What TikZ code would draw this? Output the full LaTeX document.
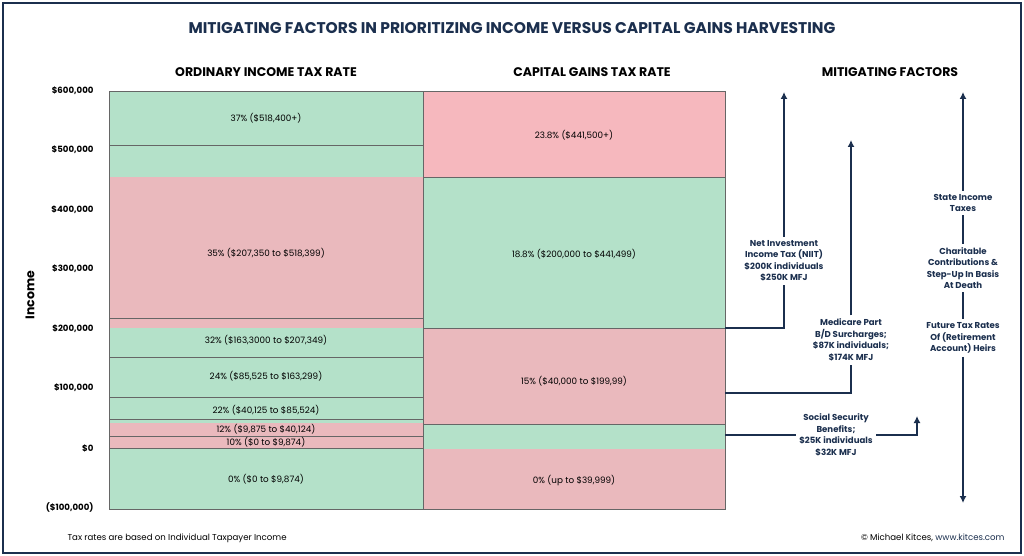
\documentclass[tikz,border=0pt]{standalone}
\usepackage{fontspec}
\setmainfont{Poppins}
\begin{document}
\begin{tikzpicture}[x=1pt,y=-1pt,
  band/.style={draw=black!60,line width=0.6pt},
  navy/.style={draw=nv,line width=2.4pt},
  arr/.style={navy,-{Latex[length=7pt,width=7pt]}},
  lbl/.style={font=\fontsize{8.8}{10}\selectfont,text=black},
  rt/.style={font=\bfseries\fontsize{8.6}{11.5}\selectfont,text=nv,align=center},
  ax/.style={font=\bfseries\fontsize{8.6}{10}\selectfont,anchor=east}]
\definecolor{nv}{HTML}{1B2F4E}
\definecolor{gr}{HTML}{B4E1C9}
\definecolor{pk}{HTML}{EAB9BD}
\definecolor{pk2}{HTML}{F6B8BE}
\usetikzlibrary{arrows.meta}
\useasboundingbox (0,0) rectangle (1024,556);
\fill[white] (0,0) rectangle (1024,556);
\draw[nv,line width=2pt] (3,3) rectangle (1021,553);
\node[font=\bfseries\fontsize{15.5}{18}\selectfont,text=nv] (title) at (512,28) {MITIGATING FACTORS IN PRIORITIZING INCOME VERSUS CAPITAL GAINS HARVESTING};
\node[font=\bfseries\fontsize{12.5}{14}\selectfont] (h1) at (266,72) {ORDINARY INCOME TAX RATE};
\node[font=\bfseries\fontsize{12.5}{14}\selectfont] (h2) at (592,72) {CAPITAL GAINS TAX RATE};
\node[font=\bfseries\fontsize{12.5}{14}\selectfont] (h3) at (890,72) {MITIGATING FACTORS};
% axis
\node[ax] (a6) at (97,91) {\$600,000};
\node[ax] (a5) at (97,150) {\$500,000};
\node[ax] (a4) at (97,210) {\$400,000};
\node[ax] (a3) at (97,269) {\$300,000};
\node[ax] (a2) at (97,329) {\$200,000};
\node[ax] (a1) at (97,388) {\$100,000};
\node[ax] (a0) at (97,448) {\$0};
\node[ax] (am) at (97,507) {(\$100,000)};
\node[font=\bfseries\fontsize{12.5}{14}\selectfont,rotate=90] (inc) at (30,295) {Income};
% left column
\fill[gr] (109,91) rectangle (423,177);
\fill[pk] (109,177) rectangle (423,328);
\fill[gr] (109,328) rectangle (423,423);
\fill[pk] (109,423) rectangle (423,448);
\fill[gr] (109,448) rectangle (423,509);
\draw[band] (109,91) rectangle (423,509);
\foreach \yy in {145,318,357,397,419,436,448} \draw[band] (109,\yy) -- (423,\yy);
\node[lbl] (l37) at (266,118) {37\% (\$518,400+)};
\node[lbl] (l35) at (266,253) {35\% (\$207,350 to \$518,399)};
\node[lbl] (l32) at (266,340) {32\% (\$163,3000 to \$207,349)};
\node[lbl] (l24) at (266,376) {24\% (\$85,525 to \$163,299)};
\node[lbl] (l22) at (266,410) {22\% (\$40,125 to \$85,524)};
\node[lbl] (l12) at (266,429) {12\% (\$9,875 to \$40,124)};
\node[lbl] (l10) at (266,442) {10\% (\$0 to \$9,874)};
\node[lbl] (l0) at (266,479) {0\% (\$0 to \$9,874)};
% middle column
\fill[pk2] (423,91) rectangle (725,177);
\fill[gr] (423,177) rectangle (725,328);
\fill[pk] (423,328) rectangle (725,424);
\fill[gr] (423,424) rectangle (725,449);
\fill[pk] (423,449) rectangle (725,509);
\draw[band] (423,91) rectangle (725,509);
\foreach \yy in {177,328,424} \draw[band] (423,\yy) -- (725,\yy);
\node[lbl] (c23) at (574,135) {23.8\% (\$441,500+)};
\node[lbl] (c18) at (574,254) {18.8\% (\$200,000 to \$441,499)};
\node[lbl] (c15) at (574,381) {15\% (\$40,000 to \$199,99)};
\node[lbl] (c0) at (574,481) {0\% (up to \$39,999)};
% mitigating
\node[rt] (niit) at (784,261) {Net Investment\\Income Tax (NIIT)\\\$200K individuals\\\$250K MFJ};
\coordinate (n0) at (725,328);
\coordinate (ntop) at (784,92);
\draw[navy] (n0) -- (784,328) -- (niit.south);
\draw[arr] (niit.north) -- (ntop);
\node[rt] (med) at (851,340) {Medicare Part\\B/D Surcharges;\\\$87K individuals;\\\$174K MFJ};
\coordinate (m0) at (725,393);
\coordinate (mtop) at (851,140);
\draw[navy] (m0) -- (851,393) -- (med.south);
\draw[arr] (med.north) -- (mtop);
\node[rt] (ss) at (836,435) {Social Security\\Benefits;\\\$25K individuals\\\$32K MFJ};
\coordinate (s0) at (725,435);
\coordinate (stop) at (917,416);
\draw[navy] (s0) -- (ss.west |- s0);
\draw[arr] (ss.east |- s0) -- (917,435) -- (stop);
\node[rt] (st) at (963,203) {State Income\\Taxes};
\node[rt] (ch) at (963,268) {Charitable\\Contributions \&\\Step-Up In Basis\\At Death};
\node[rt] (fu) at (963,338) {Future Tax Rates\\Of (Retirement\\Account) Heirs};
\coordinate (rtop) at (963,92);
\coordinate (rbot) at (963,503);
\draw[arr] (st.north) -- (rtop);
\draw[navy] (st.south) -- (ch.north);
\draw[navy] (ch.south) -- (fu.north);
\draw[arr] (fu.south) -- (rbot);
\node[font=\fontsize{8.6}{10}\selectfont,anchor=west] (f1) at (64,538) {Tax rates are based on Individual Taxpayer Income};
\node[font=\fontsize{8.6}{10}\selectfont,anchor=east] (f2) at (1008,538) {© Michael Kitces, \textcolor{nv}{www.kitces.com}};
\end{tikzpicture}
\end{document}
